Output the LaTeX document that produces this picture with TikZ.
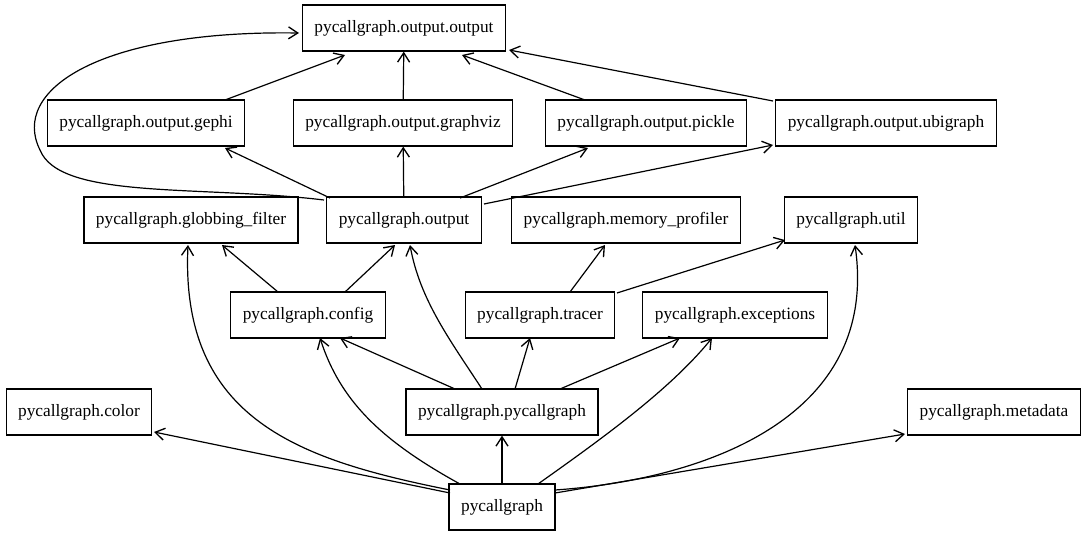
\documentclass[tikz,border=0pt]{standalone}
\usepackage{fontspec}
\setmainfont{Liberation Serif}
\usetikzlibrary{arrows.meta}
\begin{document}
\begin{tikzpicture}[x=0.75pt,y=-0.75pt,
  n/.style={draw,line width=0.9pt,minimum height=34.5pt,inner xsep=9pt,font=\fontsize{13}{15}\selectfont},
  e/.style={line width=0.9pt,-{Straight Barb[length=7pt,width=9pt,line width=1pt]}}]
\useasboundingbox (0,0) rectangle (1089,539);
\node[n] (oo) at (404,28) {pycallgraph.output.output};
\node[n] (ge) at (146,123) {pycallgraph.output.gephi};
\node[n] (gv) at (403,123) {pycallgraph.output.graphviz};
\node[n] (pk) at (646,123) {pycallgraph.output.pickle};
\node[n] (ub) at (886,123) {pycallgraph.output.ubigraph};
\node[n] (gf) at (191,220) {pycallgraph.globbing\_filter};
\node[n] (ou) at (404,220) {pycallgraph.output};
\node[n] (mp) at (626,220) {pycallgraph.memory\_profiler};
\node[n] (ut) at (851,220) {pycallgraph.util};
\node[n] (cf) at (308,315) {pycallgraph.config};
\node[n] (tr) at (540,315) {pycallgraph.tracer};
\node[n] (ex) at (735,315) {pycallgraph.exceptions};
\node[n] (co) at (79,412) {pycallgraph.color};
\node[n] (pp) at (502,412) {pycallgraph.pycallgraph};
\node[n] (md) at (994,412) {pycallgraph.metadata};
\node[n] (pc) at (502,507) {pycallgraph};
\draw[e] (225,100) -- (345,55);
\draw[e] (gv) -- (oo);
\draw[e] (585,100) -- (462,55);
\draw[e] (773,101) -- (509,50);
\draw[e] (330,198) -- (225,148);
\draw[e] (ou) -- (gv);
\draw[e] (460,198) -- (588,148);
\draw[e] (484,204) -- (773,145);
\draw[e] (324,200) .. controls (200,185) and (60,200) .. (40,150) .. controls (10,90) and (100,30) .. (299,33);
\draw[e] (278,292) -- (222,245);
\draw[e] (345,292) -- (395,245);
\draw[e] (570,292) -- (605,245);
\draw[e] (617,293) -- (785,240);
\draw[e] (455,389) -- (340,338);
\draw[e] (482,389) .. controls (450,340) and (420,300) .. (410,245);
\draw[e] (515,389) -- (530,338);
\draw[e] (560,389) -- (680,338);
\draw[e] (450,493) -- (154,432);
\draw[e] (pc) -- (pp);
\draw[e] (555,493) -- (905,434);
\draw[e] (460,484) .. controls (380,440) and (340,400) .. (320,338);
\draw[e] (450,490) .. controls (300,460) and (180,420) .. (188,245);
\draw[e] (538,484) .. controls (600,440) and (670,390) .. (712,338);
\draw[e] (555,490) .. controls (700,480) and (880,420) .. (855,245);
\end{tikzpicture}
\end{document}
